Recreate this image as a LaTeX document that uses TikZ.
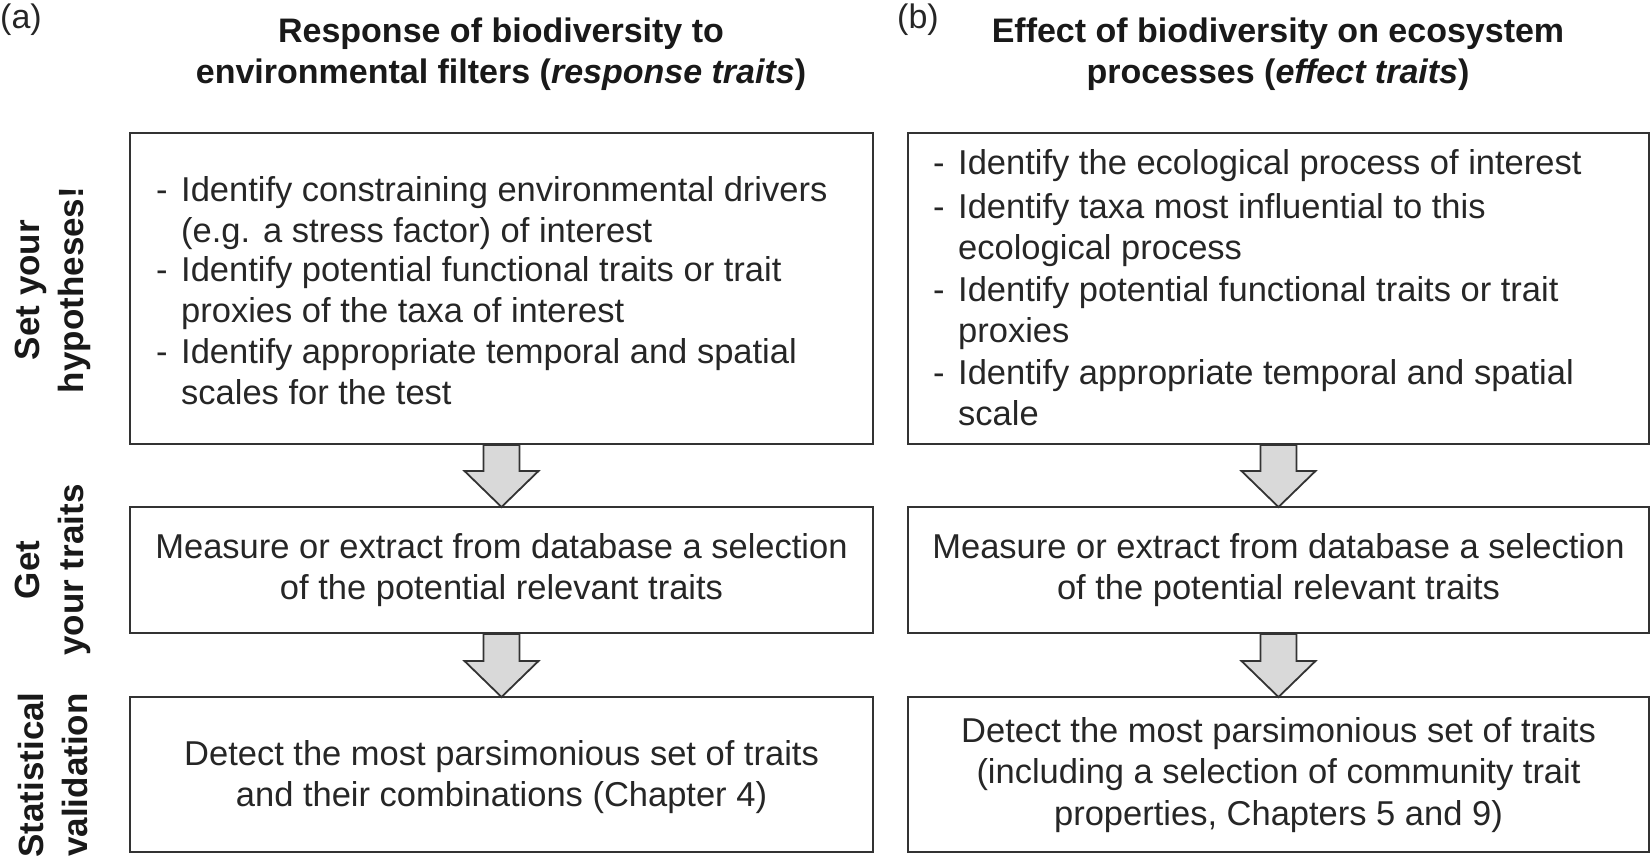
\documentclass[tikz,border=0pt]{standalone}
\usepackage{fontspec}
\setmainfont{Liberation Sans}
\begin{document}
\begin{tikzpicture}[x=1pt,y=-1pt,
  box/.style={draw=black!80,line width=2.2pt,inner sep=0pt},
  body/.style={font=\fontsize{34.5}{41.5}\selectfont,text=black!85,inner sep=0pt,align=left},
  ctext/.style={font=\fontsize{34.5}{41.5}\selectfont,text=black!85,inner sep=0pt,align=center},
  ttl/.style={font=\fontsize{34}{41}\selectfont\bfseries,text=black!90,inner sep=0pt,align=center},
  side/.style={font=\fontsize{35}{44}\selectfont\bfseries,text=black!90,inner sep=0pt,align=center,rotate=90},
  arr/.style={fill=black!15,draw=black!80,line width=1.8pt,line join=miter}]
\useasboundingbox (0,0) rectangle (1652,857);
\newcommand{\fatarrow}[3]{\draw[arr] (#1-18,#2) -- (#1+18,#2) -- (#1+18,#3-36) -- (#1+37,#3-36) -- (#1,#3) -- (#1-37,#3-36) -- (#1-18,#3-36) -- cycle;}
% boxes
\node[box,minimum width=743,minimum height=311] (a1) at (501.5,288.5) {};
\node[box,minimum width=743,minimum height=126] (a2) at (501.5,570) {};
\node[box,minimum width=743,minimum height=155] (a3) at (501.5,774.5) {};
\node[box,minimum width=741,minimum height=311] (b1) at (1278.5,288.5) {};
\node[box,minimum width=741,minimum height=126] (b2) at (1278.5,570) {};
\node[box,minimum width=741,minimum height=155] (b3) at (1278.5,774.5) {};
\fatarrow{501.5}{445}{507}
\fatarrow{501.5}{634}{697}
\fatarrow{1278.5}{445}{507}
\fatarrow{1278.5}{634}{697}
% labels
\node[font=\fontsize{34}{40}\selectfont,text=black!85,anchor=west,inner sep=0pt] (la) at (0,20) {(a)};
\node[font=\fontsize{34}{40}\selectfont,text=black!85,anchor=west,inner sep=0pt] (lb) at (897,20) {(b)};
\node[ttl] (ta) at (501,54) {Response of biodiversity to\\environmental filters (\textit{response traits})};
\node[ttl] (tb) at (1278,54) {Effect of biodiversity on ecosystem\\processes (\textit{effect traits})};
\node[side] (s1) at (53,290) {Set your\\hypotheses!};
\node[side] (s2) at (53,570) {Get\\your traits};
\node[side] (s3) at (53,775) {Statistical\\validation};
% left box 1
\node[body,anchor=base west] (d1) at (156,201) {-};
\node[body,anchor=base west] (t1) at (181,242.5) {Identify constraining environmental drivers\\(e.g. a stress factor) of interest};
\node[body,anchor=base west] (d2) at (156,281) {-};
\node[body,anchor=base west] (t2) at (181,322.5) {Identify potential functional traits or trait\\proxies of the taxa of interest};
\node[body,anchor=base west] (d3) at (156,363) {-};
\node[body,anchor=base west] (t3) at (181,404.5) {Identify appropriate temporal and spatial\\scales for the test};
% right box 1
\node[body,anchor=base west] (e1) at (933,174) {-};
\node[body,anchor=base west] (u1) at (958,174) {Identify the ecological process of interest};
\node[body,anchor=base west] (e2) at (933,218) {-};
\node[body,anchor=base west] (u2) at (958,259.5) {Identify taxa most influential to this\\ecological process};
\node[body,anchor=base west] (e3) at (933,301) {-};
\node[body,anchor=base west] (u3) at (958,342.5) {Identify potential functional traits or trait\\proxies};
\node[body,anchor=base west] (e4) at (933,384) {-};
\node[body,anchor=base west] (u4) at (958,425.5) {Identify appropriate temporal and spatial\\scale};
% other boxes
\node[ctext] (m1) at (a2.center) {Measure or extract from database a selection\\of the potential relevant traits};
\node[ctext] (m2) at (b2.center) {Measure or extract from database a selection\\of the potential relevant traits};
\node[ctext] (m3) at (501.5,777) {Detect the most parsimonious set of traits\\and their combinations (Chapter 4)};
\node[ctext] (m4) at (1278.5,775) {Detect the most parsimonious set of traits\\(including a selection of community trait\\properties, Chapters 5 and 9)};
\end{tikzpicture}
\end{document}
